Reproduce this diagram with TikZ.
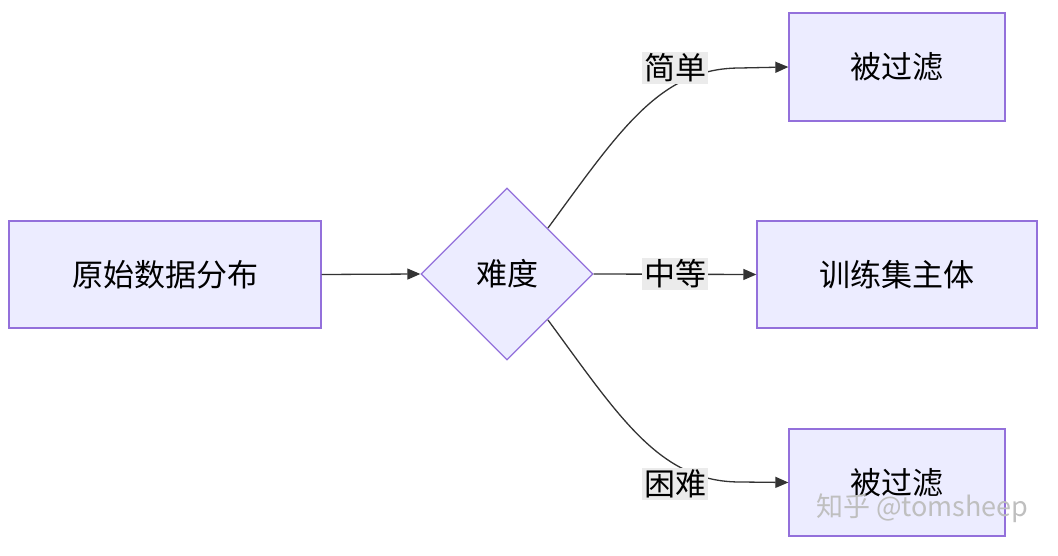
\documentclass[tikz,border=0pt]{standalone}
\usepackage{fontspec}
\setmainfont{Noto Sans CJK SC}
\usetikzlibrary{shapes.geometric,arrows.meta}
\definecolor{nfill}{HTML}{ECECFF}
\definecolor{nline}{HTML}{9370DB}
\definecolor{eline}{HTML}{333333}
\begin{document}
\begin{tikzpicture}[x=1pt,y=-1pt,
  box/.style={draw=nline,fill=nfill,line width=1.3pt,font=\fontsize{31}{33}\selectfont,inner sep=0pt},
  lab/.style={fill=black!8,font=\fontsize{31}{33}\selectfont,inner sep=2pt},
  edge/.style={draw=eline,line width=1.3pt,-{Triangle[length=13pt,width=11pt]}}]
\useasboundingbox (0,0) rectangle (1058,556);
\node[box,minimum width=312pt,minimum height=107pt] (a) at (165,274.5) {原始数据分布};
\node[box,diamond,aspect=1,minimum width=172pt,minimum height=172pt] (d) at (507,274) {难度};
\node[box,minimum width=216pt,minimum height=108pt] (b1) at (897,67) {被过滤};
\node[box,minimum width=280pt,minimum height=107pt] (b2) at (897,274.5) {训练集主体};
\node[box,minimum width=216pt,minimum height=107pt] (b3) at (897,482.5) {被过滤};
\coordinate (dt) at (548,228);
\coordinate (db) at (548,320);
\draw[edge] (a.east) -- (d.west);
\draw[edge] (dt) .. controls (620,130) and (660,68) .. (740,68) -- (b1.west);
\draw[edge] (d.east) -- (b2.west);
\draw[edge] (db) .. controls (620,418) and (660,482) .. (740,482) -- (b3.west);
\node[lab] (l1) at (675,68) {简单};
\node[lab] (l2) at (675,274) {中等};
\node[lab] (l3) at (675,484) {困难};
\node[text=black!25,font=\fontsize{27}{29}\selectfont,anchor=east] (wm) at (1032,508) {知乎 @tomsheep};
\end{tikzpicture}
\end{document}
